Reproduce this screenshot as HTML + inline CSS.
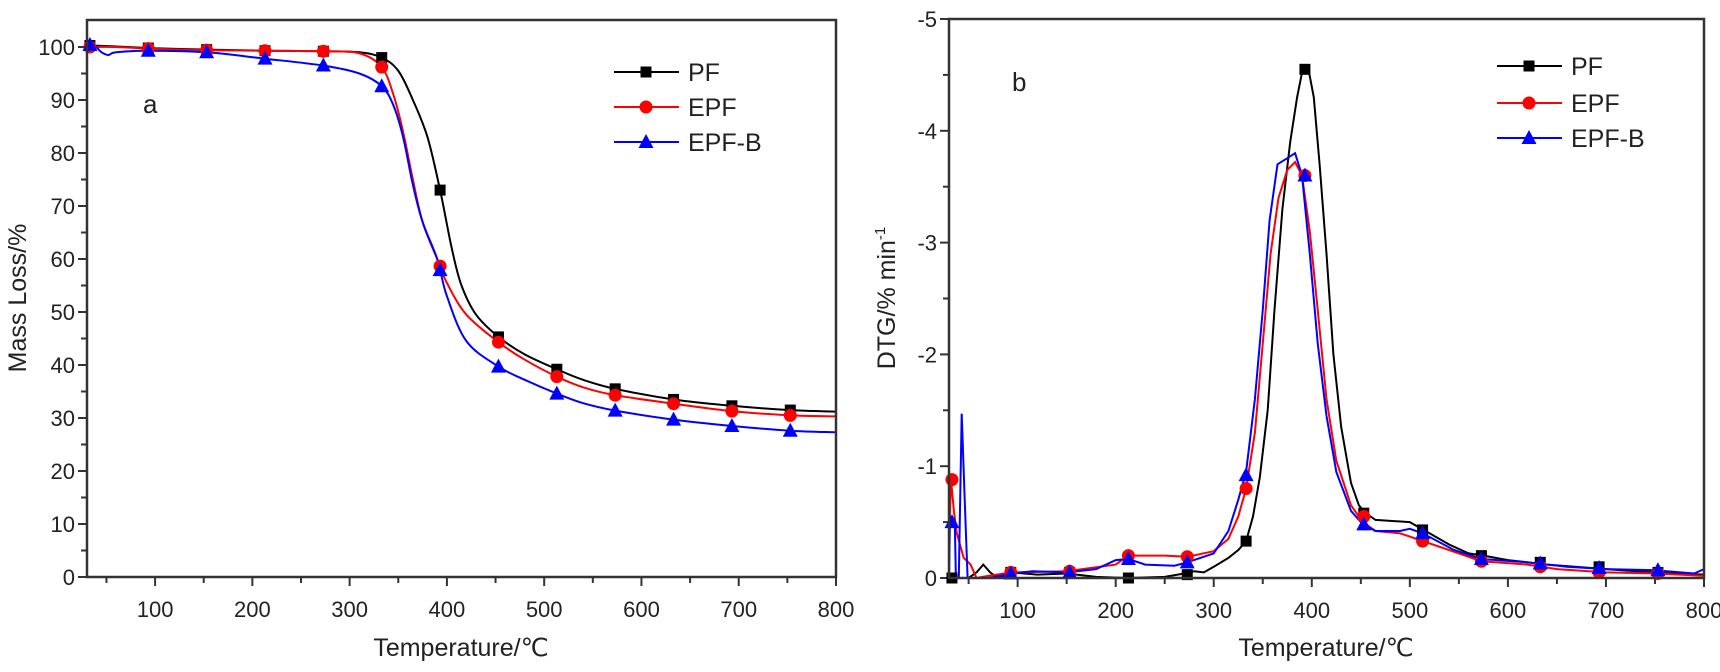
<!DOCTYPE html>
<html><head><meta charset="utf-8"><style>
html,body{margin:0;padding:0;background:#fff;}
svg text{font-family:"Liberation Sans",sans-serif;fill:#222;}
</style></head><body>
<svg id="s" width="1720" height="667" xmlns="http://www.w3.org/2000/svg"></svg>
<script>
const s=document.getElementById('s');let h='';
function cr(pts){let d='M'+pts[0][0].toFixed(1)+','+pts[0][1].toFixed(1);
for(let i=0;i<pts.length-1;i++){const p0=pts[i-1]||pts[i],p1=pts[i],p2=pts[i+1],p3=pts[i+2]||p2;
const c1=[p1[0]+(p2[0]-p0[0])/6,p1[1]+(p2[1]-p0[1])/6],c2=[p2[0]-(p3[0]-p1[0])/6,p2[1]-(p3[1]-p1[1])/6];
d+=`C${c1[0].toFixed(1)},${c1[1].toFixed(1)} ${c2[0].toFixed(1)},${c2[1].toFixed(1)} ${p2[0].toFixed(1)},${p2[1].toFixed(1)}`;}return d;}
function interp(data,x){for(let i=0;i<data.length-1;i++){if(x>=data[i][0]&&x<=data[i+1][0]){const t=(x-data[i][0])/(data[i+1][0]-data[i][0]);return data[i][1]+t*(data[i+1][1]-data[i][1]);}}return data[data.length-1][1];}
function marker(t,x,y,c){if(t==0)return `<rect x="${x-5.5}" y="${y-5.5}" width="11" height="11" fill="${c}"/>`;
if(t==1)return `<circle cx="${x}" cy="${y}" r="6.5" fill="${c}"/>`;
return `<polygon points="${x},${y-8} ${x-7.5},${y+6} ${x+7.5},${y+6}" fill="${c}"/>`;}
const cols=['#000','#f00','#00f'];
const mx=[33,93,153,213,273,333,393,453,513,573,633,693,753];
function panel(o){
 const X=v=>o.x0+(v-30)*(o.x1-o.x0)/770;
 const Y=v=>o.ybase-(v-o.vmin)*o.ppu;
 // ticks
 for(let v=50;v<=800;v+=50){const x=X(v);const maj=v%100==0;h+=`<line x1="${x}" y1="${o.yb}" x2="${x}" y2="${o.yb+(maj?9:6)}" stroke="#333" stroke-width="2"/>`;
  if(maj)h+=`<text x="${x}" y="${o.yb+40}" font-size="22" text-anchor="middle">${v}</text>`;}
 o.yt.forEach(([v,lab,maj])=>{const y=Y(v);h+=`<line x1="${o.x0-(maj?9:6)}" y1="${y}" x2="${o.x0}" y2="${y}" stroke="#333" stroke-width="2"/>`;
  if(maj)h+=`<text x="${o.x0-12}" y="${y+8}" font-size="22" text-anchor="end">${lab}</text>`;});
 o.series.forEach((d,i)=>{const pts=d.map(p=>[X(p[0]),Y(p[1])]);h+=`<path d="${o.smooth?cr(pts):'M'+pts.map(p=>p[0].toFixed(1)+','+p[1].toFixed(1)).join('L')}" fill="none" stroke="${cols[i]}" stroke-width="2"/>`;});
 o.series.forEach((d,i)=>{mx.forEach(m=>{h+=marker(i,X(m),Y(o.mv?o.mv[i][mx.indexOf(m)]:interp(d,m)),cols[i]);});});
 h+=`<rect x="${o.x0}" y="${o.yt0}" width="${o.x1-o.x0}" height="${o.yb-o.yt0}" fill="none" stroke="#333" stroke-width="2.5"/>`;
 // legend
 ['PF','EPF','EPF-B'].forEach((n,i)=>{const y=o.ly[i];h+=`<line x1="${o.lx}" y1="${y}" x2="${o.lx+65}" y2="${y}" stroke="${cols[i]}" stroke-width="2"/>`+marker(i,o.lx+32,y,cols[i])+`<text x="${o.lx+74}" y="${y+9}" font-size="25">${n}</text>`;});
}
const tg=[
[[30,100.3],[60,100.1],[93,99.8],[153,99.5],[213,99.3],[273,99.2],[310,99],[333,98],[350,95.5],[365,90],[380,83],[393,73],[405,62],[415,55],[430,49.5],[453,45.3],[480,42],[513,39.2],[540,37.2],[573,35.5],[633,33.5],[693,32.3],[753,31.5],[800,31.2]],
[[30,100],[60,100],[93,99.7],[153,99.4],[213,99.3],[273,99.2],[310,98.8],[333,96.2],[345,91],[355,84],[365,75],[375,67],[390,60],[400,55.5],[420,49.5],[453,44.3],[480,41],[513,37.8],[540,35.8],[573,34.3],[633,32.7],[693,31.3],[753,30.5],[800,30.3]],
[[30,100.5],[38,100.2],[45,99],[52,98.5],[60,99],[93,99.3],[153,99],[213,97.8],[273,96.5],[310,95],[333,92.6],[345,89],[355,83],[365,74],[375,67],[390,60],[400,53],[420,44.5],[453,39.7],[480,37.2],[513,34.6],[540,32.8],[573,31.4],[633,29.7],[693,28.5],[753,27.6],[800,27.3]]];
const yt1=[];for(let v=0;v<=100;v+=5)yt1.push([v,v,v%10==0]);
panel({x0:87,x1:836,yt0:20,yb:577,ybase:577,vmin:0,ppu:5.3,yt:yt1,series:tg,smooth:true,lx:614,ly:[72,107,142]});
const dtg=[
[[30,0],[50,0],[58,0.05],[65,0.12],[72,0.05],[80,0],[95,0.05],[120,0.03],[150,0.04],[180,0.01],[213,0],[250,0.01],[270,0.04],[280,0.06],[290,0.05],[300,0.1],[315,0.18],[325,0.25],[333,0.33],[340,0.55],[347,0.9],[355,1.5],[362,2.4],[370,3.3],[378,3.9],[385,4.3],[390,4.52],[397,4.53],[402,4.3],[408,3.7],[415,2.9],[422,2.0],[430,1.35],[440,0.85],[448,0.65],[455,0.58],[465,0.52],[500,0.5],[510,0.45],[520,0.4],[540,0.3],[560,0.22],[575,0.2],[600,0.16],[640,0.12],[700,0.08],[750,0.05],[800,0.03]],
[[30,0.3],[32,0.88],[35,0.6],[38,0.4],[45,0.18],[52,0.12],[58,0],[70,0.02],[95,0.05],[150,0.06],[200,0.12],[213,0.2],[250,0.2],[273,0.19],[300,0.24],[315,0.35],[325,0.55],[333,0.8],[342,1.3],[350,2.1],[358,2.9],[366,3.4],[375,3.65],[383,3.72],[390,3.6],[398,3.1],[406,2.4],[415,1.6],[425,1.05],[440,0.65],[452,0.5],[465,0.42],[490,0.4],[500,0.37],[513,0.33],[540,0.25],[573,0.15],[620,0.12],[650,0.08],[700,0.05],[750,0.04],[800,0.02]],
[[30,0],[31,0.55],[34,0.48],[36,0.45],[37,0],[40,0],[43,1.47],[46,0.7],[49,0],[70,0],[95,0.04],[115,0.06],[150,0.05],[180,0.08],[200,0.16],[213,0.17],[230,0.12],[260,0.11],[273,0.14],[300,0.22],[315,0.42],[325,0.7],[333,0.95],[342,1.6],[350,2.4],[357,3.2],[365,3.7],[374,3.75],[383,3.8],[390,3.6],[398,2.9],[406,2.1],[415,1.45],[425,0.95],[440,0.6],[452,0.48],[465,0.42],[490,0.42],[500,0.44],[513,0.4],[545,0.25],[573,0.17],[620,0.14],[660,0.1],[700,0.08],[750,0.07],[790,0.04],[800,0.08]]];
const yt2=[];for(let v=0;v<=5;v+=0.5)yt2.push([v,v==0?'0':'-'+v,v%1==0]);
const mv=[[0,0.05,0.05,0,0.03,0.33,4.55,0.58,0.43,0.2,0.14,0.1,0.05],[0.88,0.05,0.06,0.2,0.19,0.8,3.6,0.55,0.33,0.15,0.1,0.05,0.04],[0.5,0.04,0.05,0.17,0.14,0.92,3.6,0.48,0.4,0.17,0.13,0.09,0.07]];
panel({x0:949,x1:1704,yt0:19,yb:578,ybase:578,vmin:0,ppu:111.8,yt:yt2,series:dtg,smooth:false,mv:mv,lx:1497,ly:[66,103,138]});
h+=`<text x="143" y="113" font-size="26">a</text><text x="1012" y="91" font-size="26">b</text>`;
h+=`<text x="461" y="656" font-size="25" text-anchor="middle">Temperature/℃</text><text x="1326" y="656" font-size="25" text-anchor="middle">Temperature/℃</text>`;
h+=`<text transform="translate(26,298) rotate(-90)" font-size="25" text-anchor="middle">Mass Loss/%</text>`;
h+=`<text transform="translate(895,298) rotate(-90)" font-size="25" text-anchor="middle">DTG/% min<tspan font-size="15" dy="-10">-1</tspan></text>`;
s.innerHTML=h;
</script>
</body></html>
